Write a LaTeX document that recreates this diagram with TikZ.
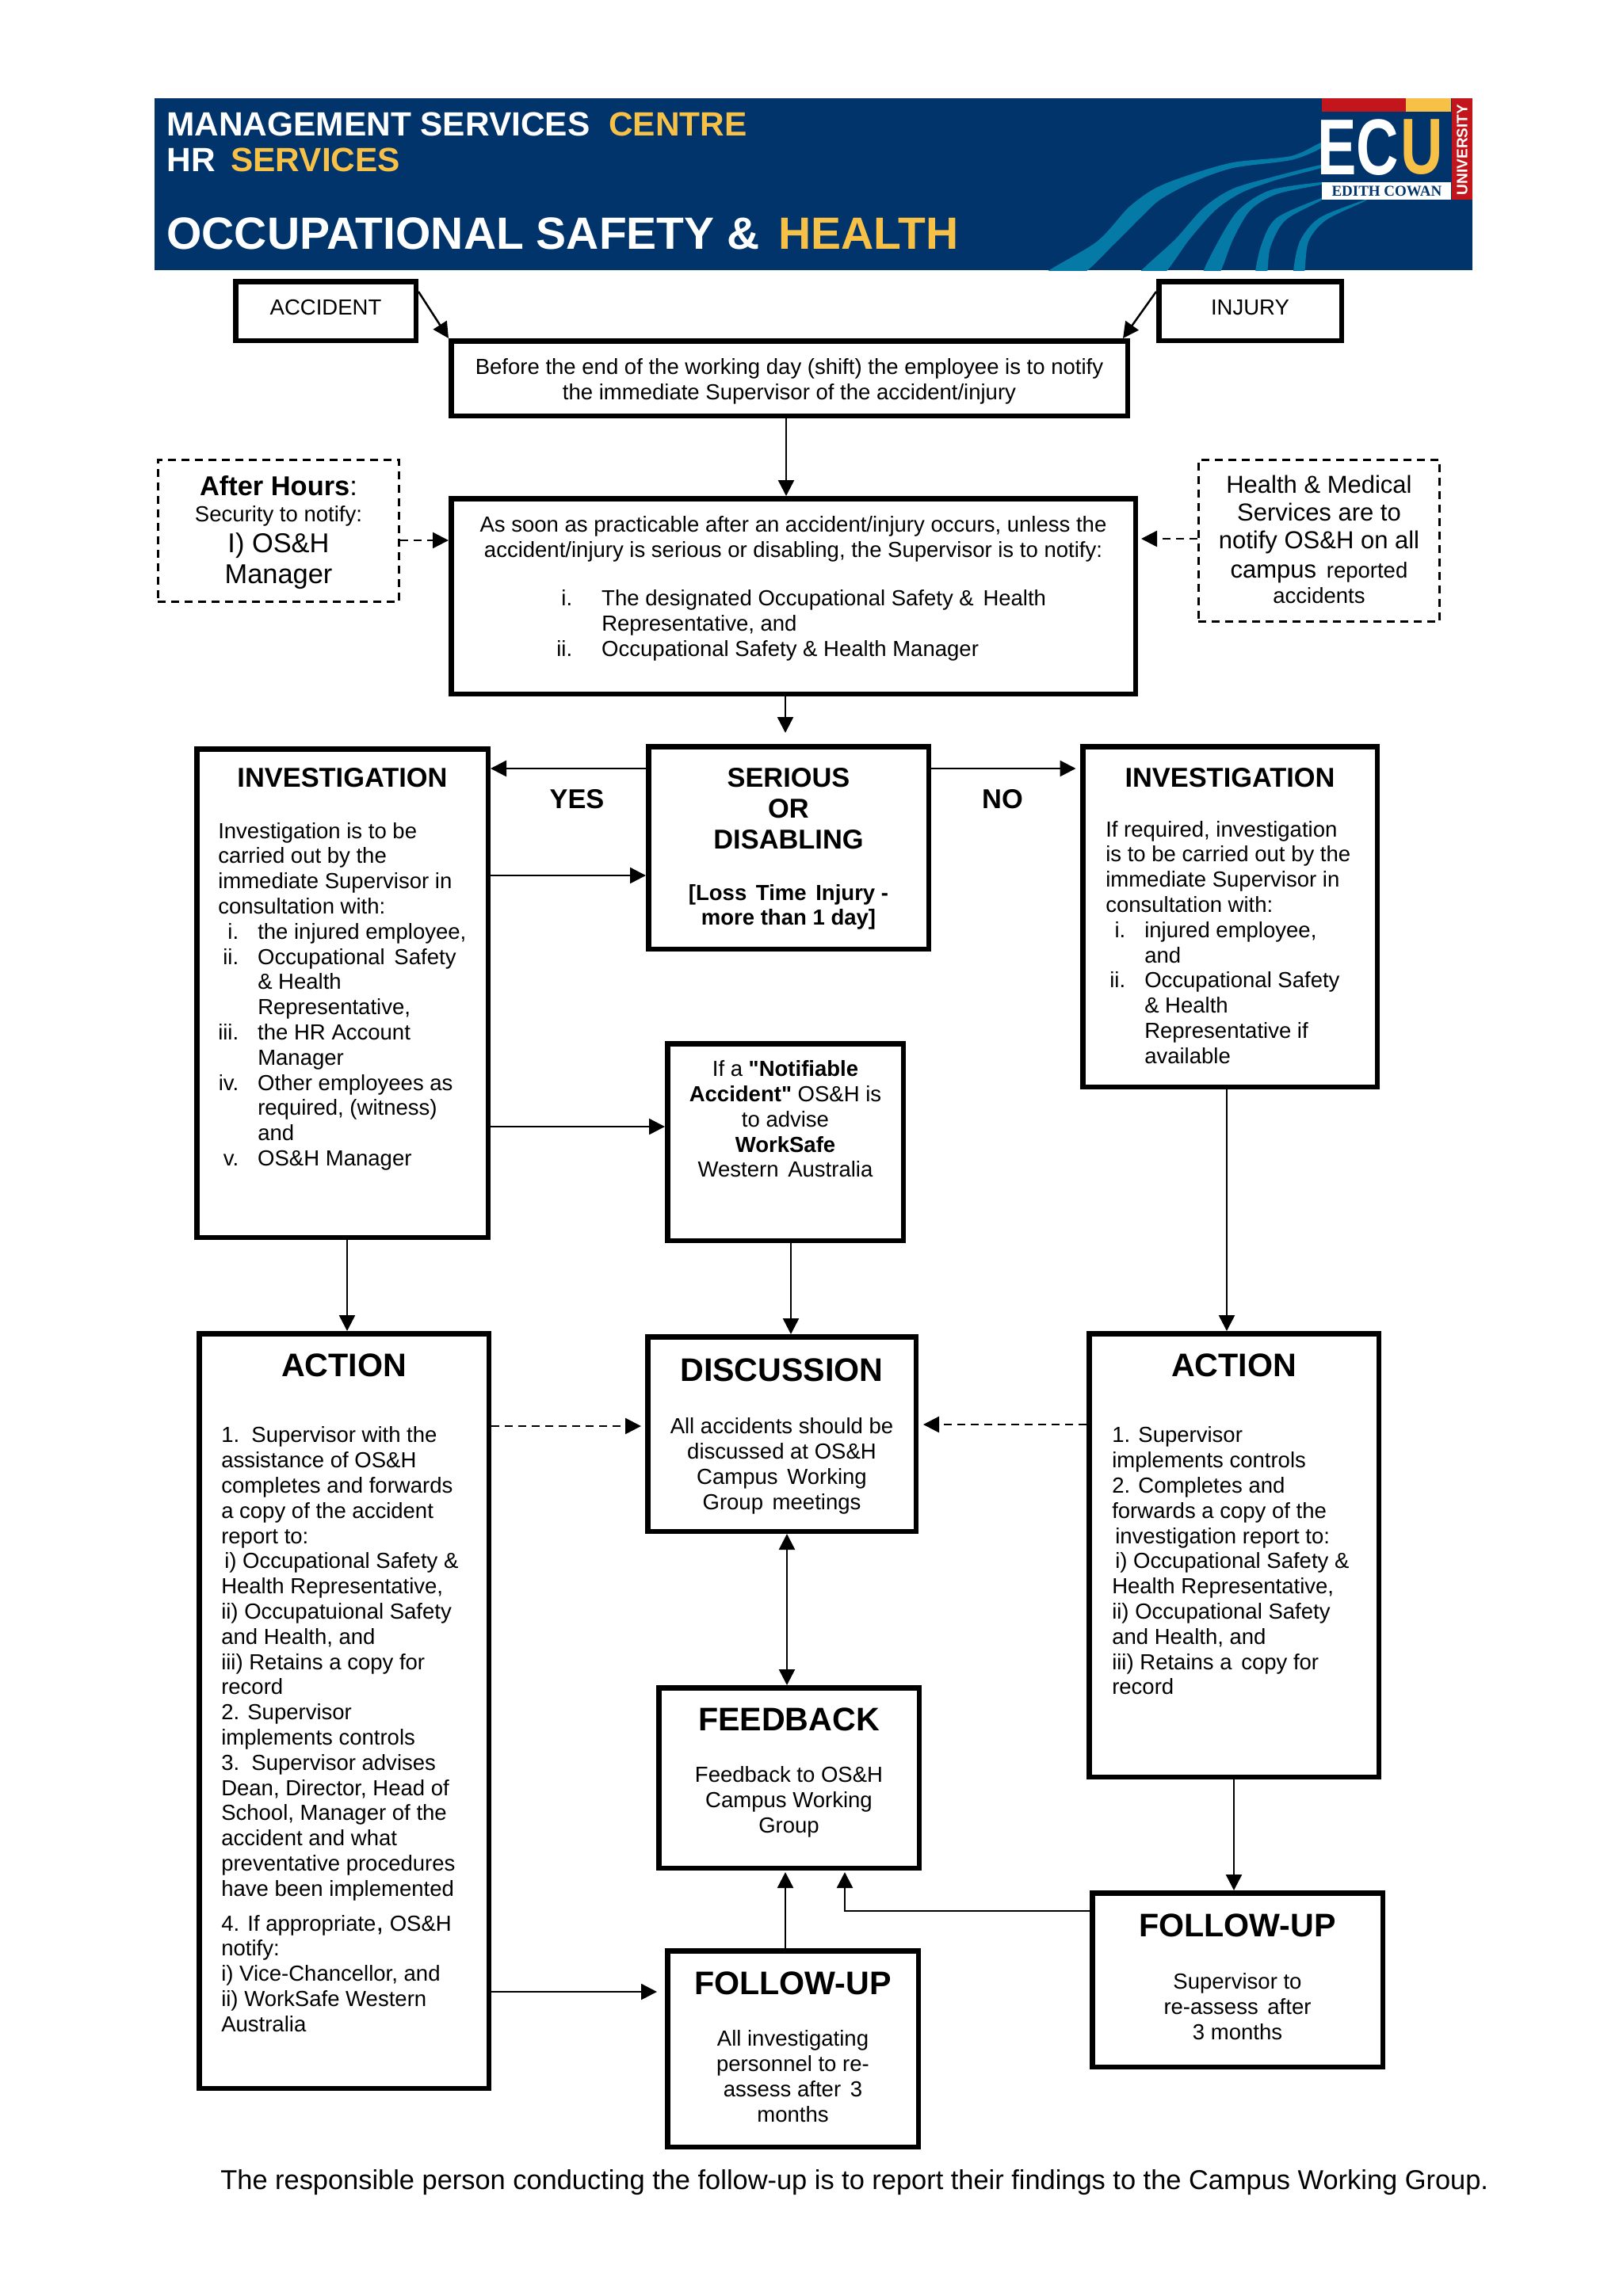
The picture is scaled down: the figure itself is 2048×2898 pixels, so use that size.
\documentclass[tikz,border=0pt]{standalone}
\usepackage{fontspec}
\setmainfont[Ligatures=TeXOff]{Liberation Sans}
\newfontfamily\logoserif{Liberation Serif}
\usepackage{xcolor}
\definecolor{ecublue}{RGB}{0, 52, 107}
\definecolor{ecuwave}{RGB}{5, 122, 166}
\definecolor{ecugold}{RGB}{247, 193, 72}
\definecolor{ecured}{RGB}{194, 22, 28}
\usepackage{tikz}
\usetikzlibrary{
    arrows.meta,
    positioning
}
\tikzstyle{box} = [
    rectangle, draw,
    line width=3.25pt,
    anchor=north west,
    inner sep=0pt,
    draw=black
]
\tikzstyle{dashbox} = [
    rectangle, draw,
    line width=1.4pt,
    dash pattern=on 5pt off 3.5pt,
    anchor=north west,
    inner sep=0pt
]
\tikzstyle{arrow} = [
    line width=1.25pt,
    ->,
    >={Triangle[length=10pt,width=10pt]}
]
\tikzstyle{dasharrow} = [
    arrow,
    dash pattern=on 5pt off 3.5pt
]
\tikzstyle{bannertext} = [
    anchor=west,
    inner sep=0pt,
    text=white,
    font=\bfseries
]
\tikzstyle{wave} = [
    fill=ecuwave,
    smooth cycle
]
% fixed box: width, height, space above the text, text
\newcommand{\boxtext}[4]{\parbox[c][#2][t]{#1}{\bodyfont\centering\vspace*{#3}#4\par}}
\newcommand{\bodyfont}{\fontsize{13.76}{15.9}\selectfont}
\newcommand{\midfont}{\fontsize{15.5}{17.5}\selectfont}
\newcommand{\headfont}{\fontsize{17.2}{19.5}\selectfont}
\newcommand{\titlefont}{\fontsize{20.6}{22}\selectfont}
\newcommand{\boxhead}[1]{{\headfont\bfseries #1\par}}
\newcommand{\boxtitle}[1]{{\titlefont\bfseries #1\par}}
\newcommand{\startleft}[1]{\par\raggedright\leftskip=#1\relax}
\newcommand{\itm}[2][12pt]{\leavevmode\llap{#2\hspace{#1}}}
\newcommand{\xs}{\hspace{2pt}\space}

\begin{document}
\begin{tikzpicture}[x=0.5pt, y=-0.5pt]
\useasboundingbox (0,0) rectangle (2048,2898);

% banner
\fill [ecublue] (195,124) rectangle (1858,341);
\begin{scope}
\clip (195,124) rectangle (1858,341);
\fill [wave] plot coordinates {(1315,348) (1384,305) (1424,262) (1457,238) (1497,222) (1556,205) (1629,197) (1667,180) (1667,187) (1629,202) (1556,212) (1505,230) (1464,252) (1439,275) (1406,308) (1362,348)};
\fill [wave] plot coordinates {(1435,348) (1483,302) (1519,262) (1556,238) (1611,222) (1667,208) (1667,212) (1611,227) (1567,243) (1534,265) (1501,302) (1466,348)};
\fill [wave] plot coordinates {(1517,348) (1537,305) (1563,265) (1603,240) (1667,230) (1667,233) (1611,245) (1578,265) (1556,302) (1537,348)};
\fill [wave] plot coordinates {(1584,348) (1592,308) (1611,275) (1667,250) (1667,253) (1622,278) (1603,312) (1598,348)};
\fill [wave] plot coordinates {(1632,348) (1640,305) (1665,275) (1720,253) (1720,255) (1673,278) (1651,305) (1645,348)};
\end{scope}
\fill [ecured] (1668,124) rectangle (1774,141);
\fill [ecugold] (1774,124) rectangle (1831,141);
\fill [ecured] (1832,124) rectangle (1858,252);
\node (logoname) [fill=white, minimum width=81.5pt, minimum height=11pt, inner sep=0pt, anchor=north west, text=ecublue]
    at (1668,230) {\logoserif\fontsize{9.5}{9.5}\selectfont\bfseries EDITH COWAN};
\node (logoec) [bannertext, xscale=0.74] at (1662,186)
    {\fontsize{50}{50}\selectfont EC};
\node (logou) [bannertext, text=ecugold, xscale=0.74] at (1767,186)
    {\fontsize{50}{50}\selectfont U};
\node (logouni) [bannertext, rotate=90, anchor=center] at (1845,189)
    {\fontsize{9.5}{9.5}\selectfont UNIVERSITY};
\node (centre) [bannertext] at (210,157)
    {\fontsize{21.2}{23}\selectfont MANAGEMENT SERVICES\hspace{6pt} \textcolor{ecugold}{CENTRE}};
\node (hrserv) [bannertext] at (210,202)
    {\fontsize{21.2}{23}\selectfont HR\hspace{4pt} \textcolor{ecugold}{SERVICES}};
\node (oshealth) [bannertext] at (210,295)
    {\fontsize{28.5}{30}\selectfont OCCUPATIONAL SAFETY \&\hspace{4pt} \textcolor{ecugold}{HEALTH}};

% top row
\node (accident) [box] at (294,352) {\boxtext{113.75pt}{37.25pt}{11.5pt}{ACCIDENT}};
\node (injury) [box] at (1459,352) {\boxtext{115.25pt}{37.25pt}{11.5pt}{INJURY}};
\node (notify) [box] at (566,427) {\boxtext{426.75pt}{47.25pt}{11pt}{Before the end of the working day (shift) the employee is to notify\\the immediate Supervisor of the accident/injury}};

\node (afterhrs) [dashbox] at (198,579) {\boxtext{152.1pt}{89.6pt}{10pt}{%
    {\headfont\bfseries After Hours}{\headfont:}\\[0.5pt]
    Security to notify:\\
    {\headfont I) OS\&H\\[4pt] Manager}}};
\node (healthmed) [dashbox] at (1511,579) {\boxtext{152.1pt}{102.1pt}{10pt}{%
    \midfont Health \& Medical\\
    Services are to\\
    notify OS\&H on all\\[1pt]
    campus\xs{\bodyfont reported}\\[-1.5pt]
    {\bodyfont accidents}}};
\node (supervisor) [box] at (566,626) {\boxtext{431.75pt}{123.25pt}{11pt}{%
    As soon as practicable after an accident/injury occurs, unless the\\
    accident/injury is serious or disabling, the Supervisor is to notify:\par
    \vspace{15pt}
    \startleft{95pt}
    \itm[18.5pt]{i.}The designated Occupational Safety \&\xs Health\\
    Representative, and\\
    \itm[18.5pt]{ii.}Occupational Safety \& Health Manager}};

% middle row
\node (serious) [box] at (815,939) {\boxtext{176.75pt}{127.75pt}{13.5pt}{%
    {\headfont\bfseries SERIOUS\\[0pt] OR\\[0pt] DISABLING\par}
    \vspace{16.5pt}
    \bfseries [Loss\xs Time\xs Injury -\\more than 1 day]}};
\node (invleft) [box] at (245,942) {\boxtext{183.75pt}{308.25pt}{12pt}{%
    \boxhead{INVESTIGATION}
    \vspace{16.5pt}
    \startleft{13.5pt}
    Investigation is to be\\
    carried out by the\\
    immediate Supervisor in\\
    consultation with:\par
    \startleft{38.5pt}
    \itm{i.}the injured employee,\\
    \itm{ii.}Occupational\xs Safety\\
    \& Health\\
    Representative,\\
    \itm{iii.}the HR Account\\
    Manager\\
    \itm{iv.}Other employees as\\
    required, (witness)\\
    and\\
    \itm{v.}OS\&H Manager}};
\node (invright) [box] at (1363,939) {\boxtext{185.75pt}{214.75pt}{13.5pt}{%
    \boxhead{INVESTIGATION}
    \vspace{15.5pt}
    \startleft{14.5pt}
    If required, investigation\\
    is to be carried out by the\\
    immediate Supervisor in\\
    consultation with:\par
    \startleft{39pt}
    \itm{i.}injured employee,\\
    and\\
    \itm{ii.}Occupational Safety\\
    \& Health\\
    Representative if\\
    available}};
\node (notifiable) [box] at (839,1314) {\boxtext{148.75pt}{124.25pt}{10.7pt}{%
    If a \textbf{"Notifiable}\\
    \textbf{Accident"} OS\&H is\\
    to advise\\
    \textbf{WorkSafe}\\
    Western\xs Australia}};
\node [font=\headfont\bfseries, inner sep=0pt] (yeslabel) at (728,1009) {YES};
\node [font=\headfont\bfseries, inner sep=0pt] (nolabel) at (1265,1009) {NO};

% lower rows
\node (actleft) [box] at (248,1680) {\boxtext{182.75pt}{476.25pt}{12.5pt}{%
    \boxtitle{ACTION}
    \vspace{26pt}
    \startleft{14pt}
    1.\ \ Supervisor with the\\
    assistance of OS\&H\\
    completes and forwards\\
    a copy of the accident\\
    report to:\\
    \hspace*{2pt}i) Occupational Safety \&\\
    Health Representative,\\
    ii) Occupatuional Safety\\
    and Health, and\\
    iii) Retains a copy for\\
    record\\
    2. Supervisor\\
    implements controls\\
    3.\ \ Supervisor advises\\
    Dean, Director, Head of\\
    School, Manager of the\\
    accident and what\\
    preventative procedures\\
    have been implemented\\[6pt]
    4. If appropriate{\headfont,} OS\&H\\
    notify:\\
    i) Vice-Chancellor, and\\
    ii) WorkSafe Western\\
    Australia}};
\node (discuss) [box] at (814,1684) {\boxtext{169.25pt}{122.75pt}{13.5pt}{%
    \boxtitle{DISCUSSION}
    \vspace{17.5pt}
    All accidents should be\\
    discussed at OS\&H\\
    Campus\xs Working\\
    Group\xs meetings}};
\node (actright) [box] at (1371,1680) {\boxtext{182.75pt}{279.75pt}{12.5pt}{%
    \boxtitle{ACTION}
    \vspace{26pt}
    \startleft{14.5pt}
    1. Supervisor\\
    implements controls\\
    2. Completes and\\
    forwards a copy of the\\
    \hspace*{2pt}investigation report to:\\
    \hspace*{2pt}i) Occupational Safety \&\\
    Health Representative,\\
    ii) Occupational Safety\\
    and Health, and\\
    iii) Retains a\xs copy for\\
    record}};
\node (feedback) [box] at (828,2127) {\boxtext{164.25pt}{113.75pt}{12.5pt}{%
    \boxtitle{FEEDBACK}
    \vspace{17pt}
    Feedback to OS\&H\\
    Campus Working\\
    Group}};
\node (followleft) [box] at (839,2459) {\boxtext{158.25pt}{123.75pt}{13pt}{%
    \boxtitle{FOLLOW-UP}
    \vspace{17pt}
    All investigating\\
    personnel to re-\\
    assess after\xs 3\\
    months}};
\node (followright) [box] at (1375,2386) {\boxtext{183.25pt}{109.75pt}{13pt}{%
    \boxtitle{FOLLOW-UP}
    \vspace{17.5pt}
    Supervisor to\\
    re-assess\xs after\\
    3 months}};
\node (closing) [anchor=west, inner sep=0pt, font=\fontsize{17.2}{19}\selectfont] at (278,2755)
    {The responsible person conducting the follow-up is to report their findings to the Campus Working Group.};

% connectors
\draw [arrow] (accident.north east) ++(0,16) -- (notify.north west);
\draw [arrow] (injury.north west) ++(0,16) -- (1417,0 |- notify.north);
\draw [arrow] (992,0 |- notify.south) -- (992,0 |- supervisor.north);
\draw [dasharrow] (afterhrs.east |- 0,682) -- (supervisor.west |- 0,682);
\draw [dasharrow, shorten >=2pt] (healthmed.west |- 0,680) -- (supervisor.east |- 0,680);
\draw [arrow, shorten >=7pt] (991,0 |- supervisor.south) -- (991,0 |- serious.north);
\draw [arrow] (serious.west |- 0,970) -- (invleft.east |- 0,970);
\draw [arrow, shorten >=2.75pt] (serious.east |- 0,970) -- (invright.west |- 0,970);
\draw [arrow] (invleft.east |- 0,1105) -- (serious.west |- 0,1105);
\draw [arrow] (invleft.east |- 0,1422) -- (notifiable.west |- 0,1422);
\draw [arrow] (438,0 |- invleft.south) -- (438,0 |- actleft.north);
\draw [arrow] (998,0 |- notifiable.south) -- (998,0 |- discuss.north);
\draw [arrow] (1548,0 |- invright.south) -- (1548,0 |- actright.north);
\draw [dasharrow, shorten >=2.5pt] (actleft.east |- 0,1800) -- (discuss.west |- 0,1800);
\draw [dasharrow, shorten >=3pt] (actright.west |- 0,1798) -- (discuss.east |- 0,1798);
\draw [arrow, <->] (993,0 |- discuss.south) -- (993,0 |- feedback.north);
\draw [arrow, shorten >=5pt] (actleft.east |- 0,2514) -- (followleft.west |- 0,2514);
\draw [arrow, shorten >=1pt] (991,0 |- followleft.north) -- (991,0 |- feedback.south);
\draw [arrow] (1557,0 |- actright.south) -- (1557,0 |- followright.north);
\draw [arrow, shorten >=1pt] (followright.west |- 0,2412) -| (1066,0 |- feedback.south);

\end{tikzpicture}
\end{document}
